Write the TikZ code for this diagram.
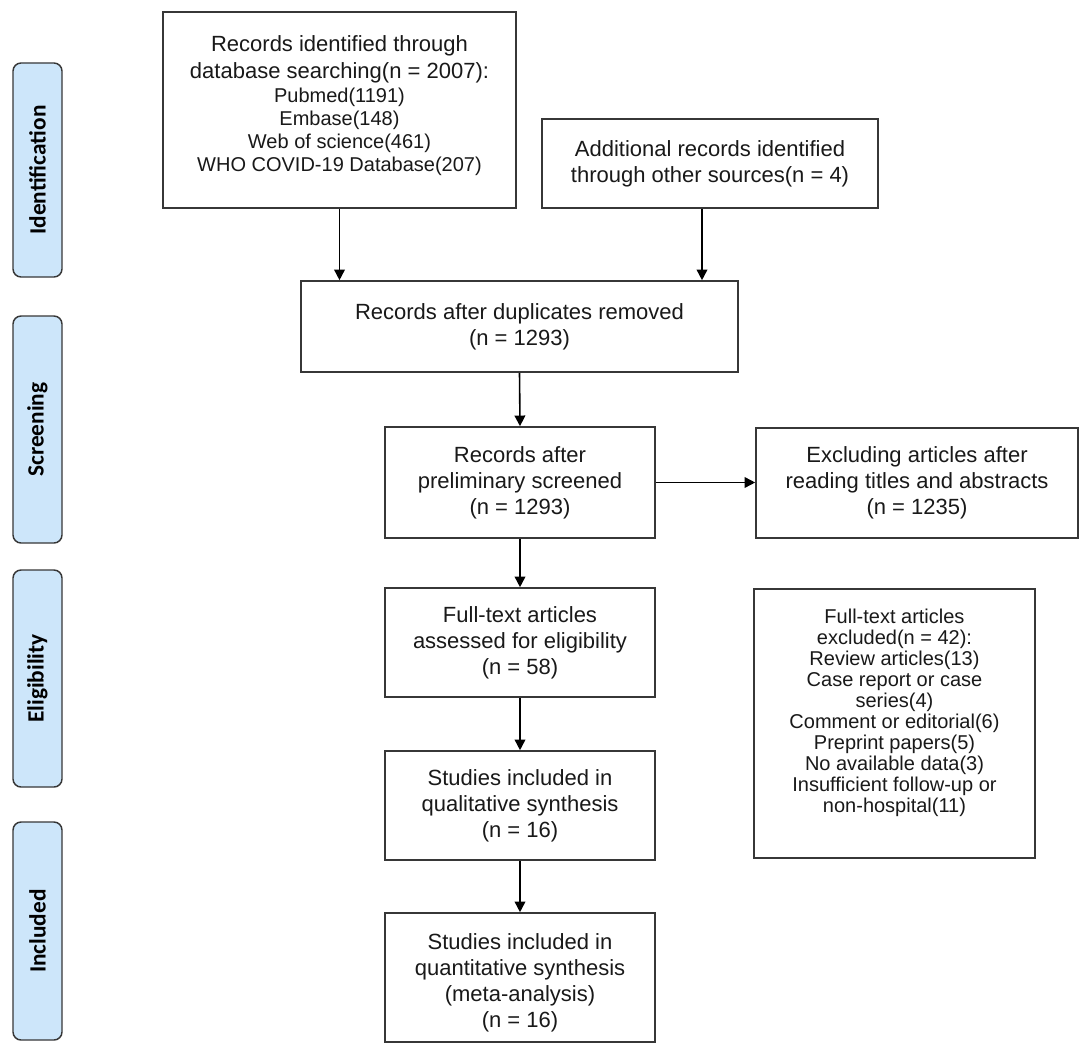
\documentclass[tikz,border=0pt]{standalone}
\usepackage{fontspec}
\setmainfont{Liberation Sans}
\newfontfamily\sidefont{Carlito}
\usetikzlibrary{arrows.meta}
\definecolor{sideblue}{RGB}{205,230,250}
\definecolor{edge}{RGB}{55,55,55}
\newcommand\lsz{\fontsize{15pt}{17.5pt}\selectfont}
\tikzset{
  box/.style={draw=edge, line width=1.2pt, fill=white, inner sep=0pt, align=center,
    font=\fontsize{16.5pt}{19.5pt}\selectfont, text=black!90},
  sidebox/.style={draw=edge, line width=1.1pt, fill=sideblue, rounded corners=6pt,
    inner sep=0pt, rotate=90, minimum height=36.75pt,
    font=\sidefont\bfseries\fontsize{17.5pt}{20pt}\selectfont},
  arr/.style={draw=black, line width=1.2pt, -{Triangle[length=8pt,width=8pt]}}
}
\begin{document}
\begin{tikzpicture}[x=0.75pt,y=-0.75pt]
\useasboundingbox (0,0) rectangle (1084,1052);
% side labels
\node[sidebox, minimum width=160.5pt] (s1) at (37.5,170) {Identification};
\node[sidebox, minimum width=170.25pt] (s2) at (37.5,429.5) {Screening};
\node[sidebox, minimum width=162.75pt] (s3) at (37.5,678.5) {Eligibility};
\node[sidebox, minimum width=163.5pt] (s4) at (37.5,931) {Included};
% boxes
\node[box, minimum width=264.75pt, minimum height=147pt] (A) at (339.5,110)
  {Records identified through\\[0.5pt]database searching(n = 2007):\\[-1pt]
   \lsz Pubmed(1191)\\[-2.2pt]\lsz Embase(148)\\[-2.2pt]\lsz Web of science(461)\\[-2.2pt]\lsz WHO COVID-19 Database(207)\\[-10pt]};
\node[box, minimum width=252pt, minimum height=66.75pt] (B) at (710,163.5)
  {Additional records identified\\through other sources(n = 4)};
\node[box, minimum width=327.75pt, minimum height=68.25pt] (C) at (519.5,326.5)
  {Records after duplicates removed\\(n = 1293)};
\node[box, minimum width=202.5pt, minimum height=83.25pt] (D) at (520,482.5)
  {Records after\\preliminary screened\\(n = 1293)};
\node[box, minimum width=241.5pt, minimum height=82.5pt] (E) at (917,483)
  {Excluding articles after\\reading titles and abstracts\\(n = 1235)};
\node[box, minimum width=202.5pt, minimum height=81.75pt] (F) at (520,642.5)
  {Full-text articles\\assessed for eligibility\\(n = 58)};
\node[box, minimum width=210.75pt, minimum height=201.75pt,
      font=\fontsize{15pt}{15.75pt}\selectfont] (G) at (894.5,723.5)
  {Full-text articles\\excluded(n = 42):\\Review articles(13)\\Case report or case\\series(4)\\Comment or editorial(6)\\Preprint papers(5)\\No available data(3)\\Insufficient follow-up or\\non-hospital(11)\\[4pt]};
\node[box, minimum width=202.5pt, minimum height=81.75pt] (H) at (520,805.5)
  {Studies included in\\qualitative synthesis\\(n = 16)};
\node[box, minimum width=202.5pt, minimum height=96.75pt] (I) at (520,977.5)
  {\rule{0pt}{20pt}Studies included in\\quantitative synthesis\\(meta-analysis)\\(n = 16)};
% connectors
\draw[arr] (A.south) -- (A.south |- C.north);
\coordinate (b1) at ([xshift=-6pt]B.south);
\draw[arr] (b1) -- (b1 |- C.north);
\draw[arr] (C.south) -- (D.north);
\draw[arr] (D.east) -- (D.east -| E.west);
\draw[arr] (D.south) -- (F.north);
\draw[arr] (F.south) -- (H.north);
\draw[arr] (H.south) -- (I.north);
\end{tikzpicture}
\end{document}
